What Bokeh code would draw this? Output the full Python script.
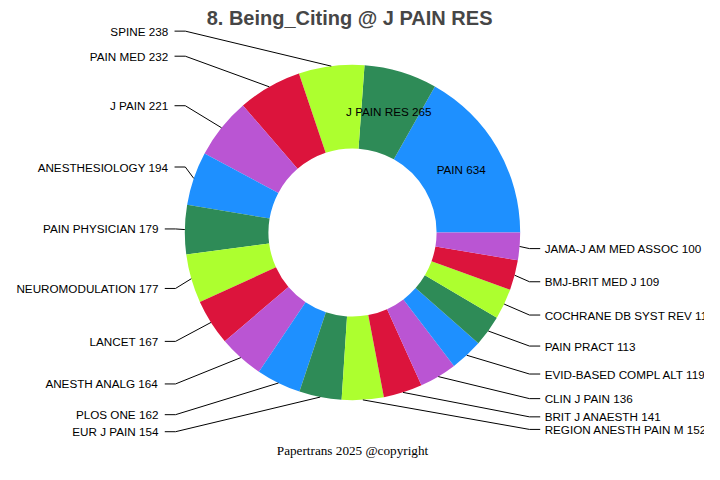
import math
from bokeh.plotting import figure
from bokeh.models import Range1d, ColumnDataSource
from bokeh.core.properties import value
from bokeh.embed import file_html
from bokeh.resources import INLINE

# ---------------- data ----------------
journals = ["PAIN", "J PAIN RES", "SPINE", "PAIN MED", "J PAIN", "ANESTHESIOLOGY",
            "PAIN PHYSICIAN", "NEUROMODULATION", "LANCET", "ANESTH ANALG", "PLOS ONE",
            "EUR J PAIN", "REGION ANESTH PAIN M", "BRIT J ANAESTH", "CLIN J PAIN",
            "EVID-BASED COMPL ALT", "PAIN PRACT", "COCHRANE DB SYST REV",
            "BMJ-BRIT MED J", "JAMA-J AM MED ASSOC"]
citations = [634, 265, 238, 232, 221, 194, 179, 177, 167, 164, 162, 154, 152,
             141, 136, 119, 113, 111, 109, 100]
palette = ["#1E90FF", "#2E8B57", "#ADFF2F", "#DC143C", "#BA55D3"]
title_text = "8. Being_Citing @ J PAIN RES"
footer_text = "Papertrans 2025 @copyright"

# ---------------- layout ----------------
# the drawing is laid out in a 720 x 480 design space (y measured from the top)
# and shown in a 704 x 464 figure
DW, DH = 720.0, 480.0
FW, FH = 704, 464
KY = (FW / DW) / (FH / DH)      # converts a screen-round radius into y data units
FS = FW / DW                    # font scale

CX, CY = 360.0, 240.0
R_OUT, R_IN = 171.5, 86.0
INSIDE_COUNT = 2
LABEL_R = {"left": 210.0, "right": 200.0}
BEND_TOP, BEND_BOTTOM = 171.0, 181.0
LEN2 = 11.0
GAP = 13.0
Y_BOTTOM = 447.0


def fy(design_y):
    return DH - design_y


def px(size):
    return f"{size * FS:.1f}px"


total = float(sum(citations))
starts, ends, mids = [], [], []
acc = 0.0
for v in citations:
    a0 = acc / total * 2 * math.pi
    acc += v
    a1 = acc / total * 2 * math.pi
    starts.append(a0)
    ends.append(a1)
    mids.append((a0 + a1) / 2)

colors = [palette[i % len(palette)] for i in range(len(citations))]
labels = [f"{j} {v}" for j, v in zip(journals, citations)]

src = ColumnDataSource(dict(x=[CX] * len(citations), y=[fy(CY)] * len(citations),
                            start=starts, end=ends, color=colors))

p = figure(width=FW, height=FH, x_range=Range1d(0, DW), y_range=Range1d(0, DH),
           output_backend="svg", toolbar_location=None, min_border=0,
           x_axis_location=None, y_axis_location=None, outline_line_color=None)
p.grid.grid_line_color = None

p.annular_wedge(x="x", y="y", inner_radius=R_IN, outer_radius=R_OUT,
                start_angle="start", end_angle="end", direction="anticlock",
                fill_color="color", line_color=None, source=src)


def ring_point(r, ang):
    return CX + r * math.cos(ang), fy(CY) + r * KY * math.sin(ang)


# inside labels
rm = (R_IN + R_OUT) / 2
in_pts = [ring_point(rm, mids[i]) for i in range(INSIDE_COUNT)]
p.text(x=[q[0] for q in in_pts], y=[q[1] for q in in_pts], text=labels[:INSIDE_COUNT],
       text_align="center", text_baseline="middle", text_font=value("Liberation Sans"),
       text_font_size=px(12), text_color="#000000")

# outside labels with leader lines
sides = {"left": [], "right": []}
for i in range(INSIDE_COUNT, len(citations)):
    side = "left" if math.cos(mids[i]) < 0 else "right"
    y0 = CY - LABEL_R[side] * math.sin(mids[i])
    sides[side].append([y0, i])

line_xs, line_ys = [], []
for side, items in sides.items():
    items.sort(key=lambda t: t[0])
    for k in range(1, len(items)):
        items[k][0] = max(items[k][0], items[k - 1][0] + GAP)
    if items and items[-1][0] > Y_BOTTOM:
        items[-1][0] = Y_BOTTOM
        for k in range(len(items) - 2, -1, -1):
            items[k][0] = min(items[k][0], items[k + 1][0] - GAP)
    tx, ty, tt = [], [], []
    d = -1 if side == "left" else 1
    for ly, i in items:
        sx, sy = ring_point(R_OUT, mids[i])
        bend = BEND_TOP if ly < CY - 8 else BEND_BOTTOM
        bx = CX + d * bend
        ex = bx + d * LEN2
        line_xs.append([sx, bx, ex])
        line_ys.append([sy, fy(ly), fy(ly)])
        tx.append(ex + (-6.5 if side == "left" else 4.5))
        ty.append(fy(ly))
        tt.append(labels[i])
    p.text(x=tx, y=ty, text=tt, text_align="right" if side == "left" else "left",
           text_baseline="middle", text_font=value("Liberation Sans"),
           text_font_size=px(12), text_color="#000000")

p.multi_line(xs=line_xs, ys=line_ys, line_color="#000000", line_width=1)

# title and footer
p.text(x=[357], y=[fy(18)], text=[title_text], text_align="center",
       text_baseline="middle", text_font=value("Liberation Sans"),
       text_font_style="bold", text_font_size=px(20.5), text_color="#464646")
p.text(x=[360], y=[fy(465)], text=[footer_text], text_align="center",
       text_baseline="middle", text_font=value("Liberation Serif"),
       text_font_size=px(13.5), text_color="#000000")

open("out.html", "w").write(file_html(p, INLINE, title="Being_Citing"))
